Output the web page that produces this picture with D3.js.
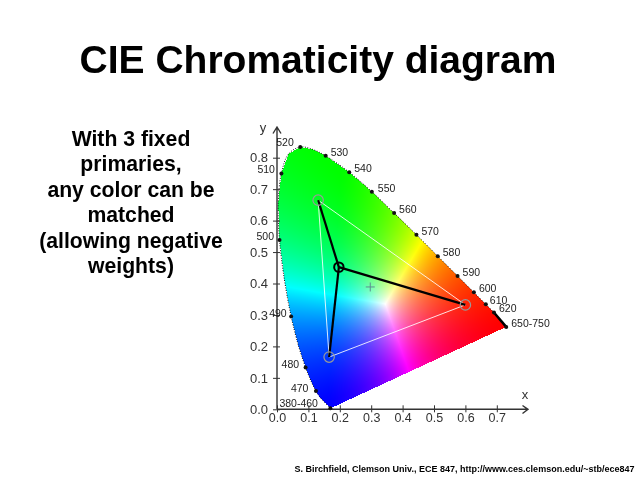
<!DOCTYPE html>
<html>
<head>
<meta charset="utf-8">
<script src="https://cdn.jsdelivr.net/npm/d3@7"></script>
<style>
html, body { margin: 0; padding: 0; background: #fff; overflow: hidden; }
#chart { position: relative; width: 638px; height: 478px; }
#chart canvas, #chart svg { position: absolute; left: 0; top: 0; }
text { font-family: "Liberation Sans", Arial, sans-serif; }
</style>
</head>
<body>
<div id="chart"></div>
<script>
var width = 638, height = 478;

// spectral locus
var locusX = [0.170, 0.1355, 0.124, 0.1096, 0.091, 0.0687, 0.045, 0.0235, 0.008, 0.0039, 0.014, 0.037, 0.074, 0.1142, 0.155, 0.230, 0.302, 0.373, 0.444, 0.512, 0.575, 0.627, 0.665, 0.691, 0.730];
var locusY = [0.003, 0.0399, 0.058, 0.0868, 0.133, 0.2007, 0.295, 0.4127, 0.538, 0.655, 0.750, 0.812, 0.834, 0.8262, 0.806, 0.754, 0.692, 0.624, 0.555, 0.487, 0.424, 0.372, 0.334, 0.308, 0.262];

// wavelength markers
var waveLabels = ["380-460", "470", "480", "490", "500", "510", "520", "530", "540", "550", "560", "570", "580", "590", "600", "610", "620", "650-750"];
var waveX = [0.170, 0.124, 0.091, 0.045, 0.008, 0.014, 0.074, 0.155, 0.230, 0.302, 0.373, 0.444, 0.512, 0.575, 0.627, 0.665, 0.691, 0.730];
var waveY = [0.003, 0.058, 0.133, 0.295, 0.538, 0.750, 0.834, 0.806, 0.754, 0.692, 0.624, 0.555, 0.487, 0.424, 0.372, 0.334, 0.308, 0.262];
var waveLabelDx = [-51, -25, -24, -22, -23, -24, -24, 5, 5, 6, 5, 5, 5, 5, 5, 4, 5, 5];
var waveLabelDy = [-1, 1, 1, 0, 0, 0, -1, 0, 0, 0, 0, 0, 0, 0, 0, 0, 0, 0];

// primaries and the matched colour
var primaryX = [0.131, 0.600, 0.166];
var primaryY = [0.665, 0.332, 0.166];
var mixX = [0.197];
var mixY = [0.452];
var whiteX = [0.297];
var whiteY = [0.389];

// colour space the fill seems to be drawn with
var fillPrimaryX = [0.72, 0.20, 0.16];
var fillPrimaryY = [0.27, 0.75, 0.02];
var fillWhite = [0.345, 0.335];
var fillGamma = 1.2;

var xTicks = [0, 0.1, 0.2, 0.3, 0.4, 0.5, 0.6, 0.7];
var yTicks = [0, 0.1, 0.2, 0.3, 0.4, 0.5, 0.6, 0.7, 0.8];

var titleText = "CIE Chromaticity diagram";
var sideLines = ["With 3 fixed", "primaries,", "any color can be", "matched", "(allowing negative", "weights)"];
var footerText = "S. Birchfield, Clemson Univ., ECE 847, http://www.ces.clemson.edu/~stb/ece847";

var x = d3.scaleLinear().domain([0, 0.7]).range([277, 496.8]);
var y = d3.scaleLinear().domain([0, 0.8]).range([409.3, 157.7]);

var locus = d3.zip(locusX, locusY);
var line = d3.line().x(function(d){ return x(d[0]); }).y(function(d){ return y(d[1]); });

// colour fill, one pixel at a time
var canvas = d3.select("#chart").append("canvas")
	.attr("width", width)
	.attr("height", height);
var ctx = canvas.node().getContext("2d");

function invert3(m){
	var a = m[0][0], b = m[0][1], c = m[0][2],
		d = m[1][0], e = m[1][1], f = m[1][2],
		g = m[2][0], h = m[2][1], i = m[2][2];
	var det = a * (e * i - f * h) - b * (d * i - f * g) + c * (d * h - e * g);
	return [
		[(e * i - f * h) / det, (c * h - b * i) / det, (b * f - c * e) / det],
		[(f * g - d * i) / det, (a * i - c * g) / det, (c * d - a * f) / det],
		[(d * h - e * g) / det, (b * g - a * h) / det, (a * e - b * d) / det]
	];
}

function mulVec(m, v){
	return m.map(function(r){ return r[0] * v[0] + r[1] * v[1] + r[2] * v[2]; });
}

// xyz of the three primaries as columns, scaled so r=g=b lands on the white
var prim = [fillPrimaryX, fillPrimaryY, fillPrimaryX.map(function(d, i){ return 1 - d - fillPrimaryY[i]; })];
var scaleRgb = mulVec(invert3(prim), [fillWhite[0], fillWhite[1], 1 - fillWhite[0] - fillWhite[1]]);
var toRgb = invert3(prim.map(function(r){ return r.map(function(v, i){ return v * scaleRgb[i]; }); }));

function xyToRgb(cx, cy){
	var c = mulVec(toRgb, [cx, cy, 1 - cx - cy]).map(function(v){ return Math.max(v, 0); });
	var m = Math.max(c[0], c[1], c[2]);
	return c.map(function(v){ return 255 * Math.pow(v / m, fillGamma); });
}

var polygon = locus.map(function(d){ return [x(d[0]), y(d[1])]; });
var img = ctx.createImageData(width, height);
for (var py = 0; py < height; py++) {
	for (var px = 0; px < width; px++) {
		if (!d3.polygonContains(polygon, [px + 0.5, py + 0.5])) continue;
		var rgb = xyToRgb(x.invert(px + 0.5), y.invert(py + 0.5));
		var k = (py * width + px) * 4;
		img.data[k] = rgb[0];
		img.data[k + 1] = rgb[1];
		img.data[k + 2] = rgb[2];
		img.data[k + 3] = 255;
	}
}
ctx.putImageData(img, 0, 0);

var svg = d3.select("#chart").append("svg")
	.attr("width", width)
	.attr("height", height);

// dotted outline of the spectral part
svg.append("path")
	.attr("d", line.curve(d3.curveCatmullRom)(locus))
	.attr("fill", "none")
	.attr("stroke", "#111")
	.attr("stroke-width", 1)
	.attr("stroke-dasharray", "1 1.5");

// heavy end of the locus
svg.append("path")
	.attr("d", line.curve(d3.curveLinear)(locus.slice(-2)))
	.attr("fill", "none")
	.attr("stroke", "#000")
	.attr("stroke-width", 2.5);

// triangle of primaries
svg.append("path")
	.attr("d", line(d3.zip(primaryX, primaryY)) + "Z")
	.attr("fill", "none")
	.attr("stroke", "#fff")
	.attr("stroke-opacity", 0.85)
	.attr("stroke-width", 1);

// weights
svg.selectAll(".weight")
	.data(primaryX)
	.enter()
	.append("line")
	.attr("class", "weight")
	.attr("x1", x(mixX[0]))
	.attr("y1", y(mixY[0]))
	.attr("x2", function(d){ return x(d); })
	.attr("y2", function(d, i){ return y(primaryY[i]); })
	.attr("stroke", "#000")
	.attr("stroke-width", 2.2);

svg.selectAll(".primary")
	.data(primaryX)
	.enter()
	.append("circle")
	.attr("class", "primary")
	.attr("cx", function(d){ return x(d); })
	.attr("cy", function(d, i){ return y(primaryY[i]); })
	.attr("r", 5.2)
	.attr("fill", "none")
	.attr("stroke", "#999")
	.attr("stroke-width", 1.2);

svg.append("circle")
	.attr("cx", x(mixX[0]))
	.attr("cy", y(mixY[0]))
	.attr("r", 4.7)
	.attr("fill", "none")
	.attr("stroke", "#000")
	.attr("stroke-width", 2);

// white point cross
svg.append("path")
	.attr("d", "M" + (x(whiteX[0]) - 4.5) + "," + y(whiteY[0]) + "h9M" + x(whiteX[0]) + "," + (y(whiteY[0]) - 4.5) + "v9")
	.attr("stroke", "#5f8f90")
	.attr("stroke-width", 1);

// axes
var xAxis = d3.axisBottom(x).tickValues(xTicks).tickSize(0).tickPadding(4).tickFormat(d3.format(".1f"));
var yAxis = d3.axisLeft(y).tickValues(yTicks).tickSize(0).tickPadding(9).tickFormat(d3.format(".1f"));

var gx = svg.append("g").attr("transform", "translate(0," + y(0) + ")").call(xAxis);
var gy = svg.append("g").attr("transform", "translate(" + x(0) + ",0)").call(yAxis);
gx.select(".domain").remove();
gy.select(".domain").remove();
gx.selectAll("text").attr("font-size", 12.5).attr("fill", "#333").style("font-family", "'Liberation Sans', Arial, sans-serif");
gy.selectAll("text").attr("font-size", 13).attr("fill", "#333").style("font-family", "'Liberation Sans', Arial, sans-serif");
gx.selectAll(".tick line").attr("y1", -4).attr("y2", 3).attr("stroke", "#333");
gy.selectAll(".tick line").attr("x1", -4).attr("x2", 3).attr("stroke", "#333");

svg.append("path")
	.attr("d", "M" + x(0) + "," + y(0) + "H527M522.5,405.5L528," + y(0) + "L522.5,413.5")
	.attr("fill", "none").attr("stroke", "#333").attr("stroke-width", 1.4);
svg.append("path")
	.attr("d", "M" + x(0) + "," + y(0) + "V128M273,133.5L" + x(0) + ",127L281,133.5")
	.attr("fill", "none").attr("stroke", "#333").attr("stroke-width", 1.4);
svg.append("text").attr("x", 525).attr("y", 399).attr("text-anchor", "middle").attr("font-size", 13).attr("fill", "#333").text("x");
svg.append("text").attr("x", 263).attr("y", 132).attr("text-anchor", "middle").attr("font-size", 13).attr("fill", "#333").text("y");

// wavelength markers
svg.selectAll(".wave")
	.data(waveX)
	.enter()
	.append("circle")
	.attr("class", "wave")
	.attr("cx", function(d){ return x(d); })
	.attr("cy", function(d, i){ return y(waveY[i]); })
	.attr("r", 2)
	.attr("fill", "#111");

svg.selectAll(".waveLabel")
	.data(waveLabels)
	.enter()
	.append("text")
	.attr("class", "waveLabel")
	.attr("x", function(d, i){ return x(waveX[i]) + waveLabelDx[i]; })
	.attr("y", function(d, i){ return y(waveY[i]) + waveLabelDy[i]; })
	.attr("font-size", 10.5)
	.attr("fill", "#222")
	.text(function(d){ return d; });

// slide text
svg.append("text")
	.attr("x", 318)
	.attr("y", 72.5)
	.attr("text-anchor", "middle")
	.attr("font-size", 39)
	.attr("font-weight", "bold")
	.attr("fill", "#000")
	.text(titleText);

svg.selectAll(".side")
	.data(sideLines)
	.enter()
	.append("text")
	.attr("class", "side")
	.attr("x", 131)
	.attr("y", function(d, i){ return 146 + i * 25.4; })
	.attr("text-anchor", "middle")
	.attr("font-size", 21.2)
	.attr("font-weight", "bold")
	.attr("fill", "#000")
	.text(function(d){ return d; });

svg.append("text")
	.attr("x", 464.5)
	.attr("y", 472)
	.attr("text-anchor", "middle")
	.attr("font-size", 9)
	.attr("font-weight", "bold")
	.attr("fill", "#000")
	.text(footerText);
</script>
</body>
</html>
